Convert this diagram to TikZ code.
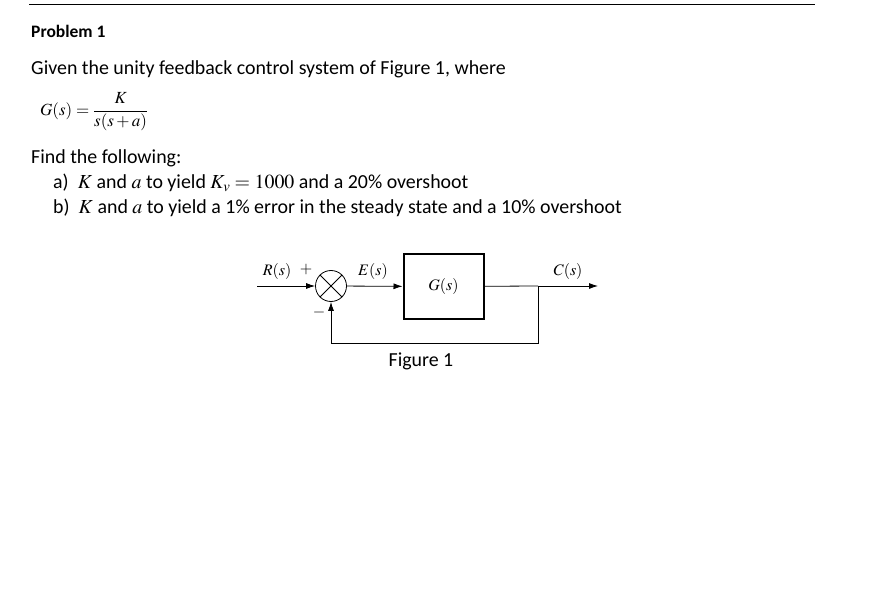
\documentclass[tikz,border=0pt]{standalone}
\usepackage{mathptmx}
\usepackage{anyfontsize}
\usepackage{fontspec}
\setmainfont{Carlito}
\usetikzlibrary{arrows.meta}
\begin{document}
\begin{tikzpicture}[x=1pt,y=-1pt,
  txt/.style={anchor=west,inner sep=0pt,font=\fontsize{19.9}{23}\selectfont},
  lab/.style={inner sep=0pt,font=\fontsize{16}{19}\selectfont},
  sig/.style={-{Latex[length=9pt,width=6pt]},line width=0.8pt},
  ln/.style={line width=0.8pt}]
\useasboundingbox[fill=white] (0,0) rectangle (880,612);
\draw[line width=1pt] (29,5) -- (815,5);
\node[txt,font=\fontsize{17.5}{20}\selectfont\bfseries] (t1) at (31,31) {Problem 1};
\node[txt] (t2) at (31,69) {Given the unity feedback control system of Figure 1, where};
\node[txt] (eq) at (40,112) {\fontsize{17}{20}\selectfont$\displaystyle G(s)=\frac{K}{s(s+a)}$};
\node[txt] (t3) at (31,158) {Find the following:};
\node[txt] (ta) at (53,183) {a)\ \ $K$ and $a$ to yield $K_v=1000$ and a 20\% overshoot};
\node[txt] (tb) at (53,208) {b)\ \ $K$ and $a$ to yield a 1\% error in the steady state and a 10\% overshoot};
% block diagram
\node[draw,circle,minimum size=31pt,inner sep=0pt,line width=0.8pt] (sum) at (331,286) {};
\draw[line width=0.8pt] (sum.north west) -- (sum.south east) (sum.north east) -- (sum.south west);
\node[draw,line width=2pt,minimum width=80pt,minimum height=64pt,font=\fontsize{16}{19}\selectfont] (G) at (443.5,286.5) {$G(s)$};
\coordinate (in) at (257,286);
\coordinate (br) at (538,286);
\coordinate (out) at (598,286);
\coordinate (bl) at (538,343);
\coordinate (bb) at (331,343);
\draw[sig] (in) -- (sum);
\draw[sig] (sum) -- (G);
\draw[ln] (G) -- (br);
\draw[sig] (br) -- (out);
\draw[sig] (br) -- (bl) -- (bb) -- (sum);
\node[lab] (R) at (277,271) {$R(s)$};
\node[lab] (plus) at (306,270) {$+$};
\node[lab] (minus) at (319,312) {$-$};
\node[lab] (E) at (373,271) {$E(s)$};
\node[lab] (C) at (568,271) {$C(s)$};
\node[txt,anchor=center] (fig) at (421,361) {Figure 1};
\end{tikzpicture}
\end{document}
